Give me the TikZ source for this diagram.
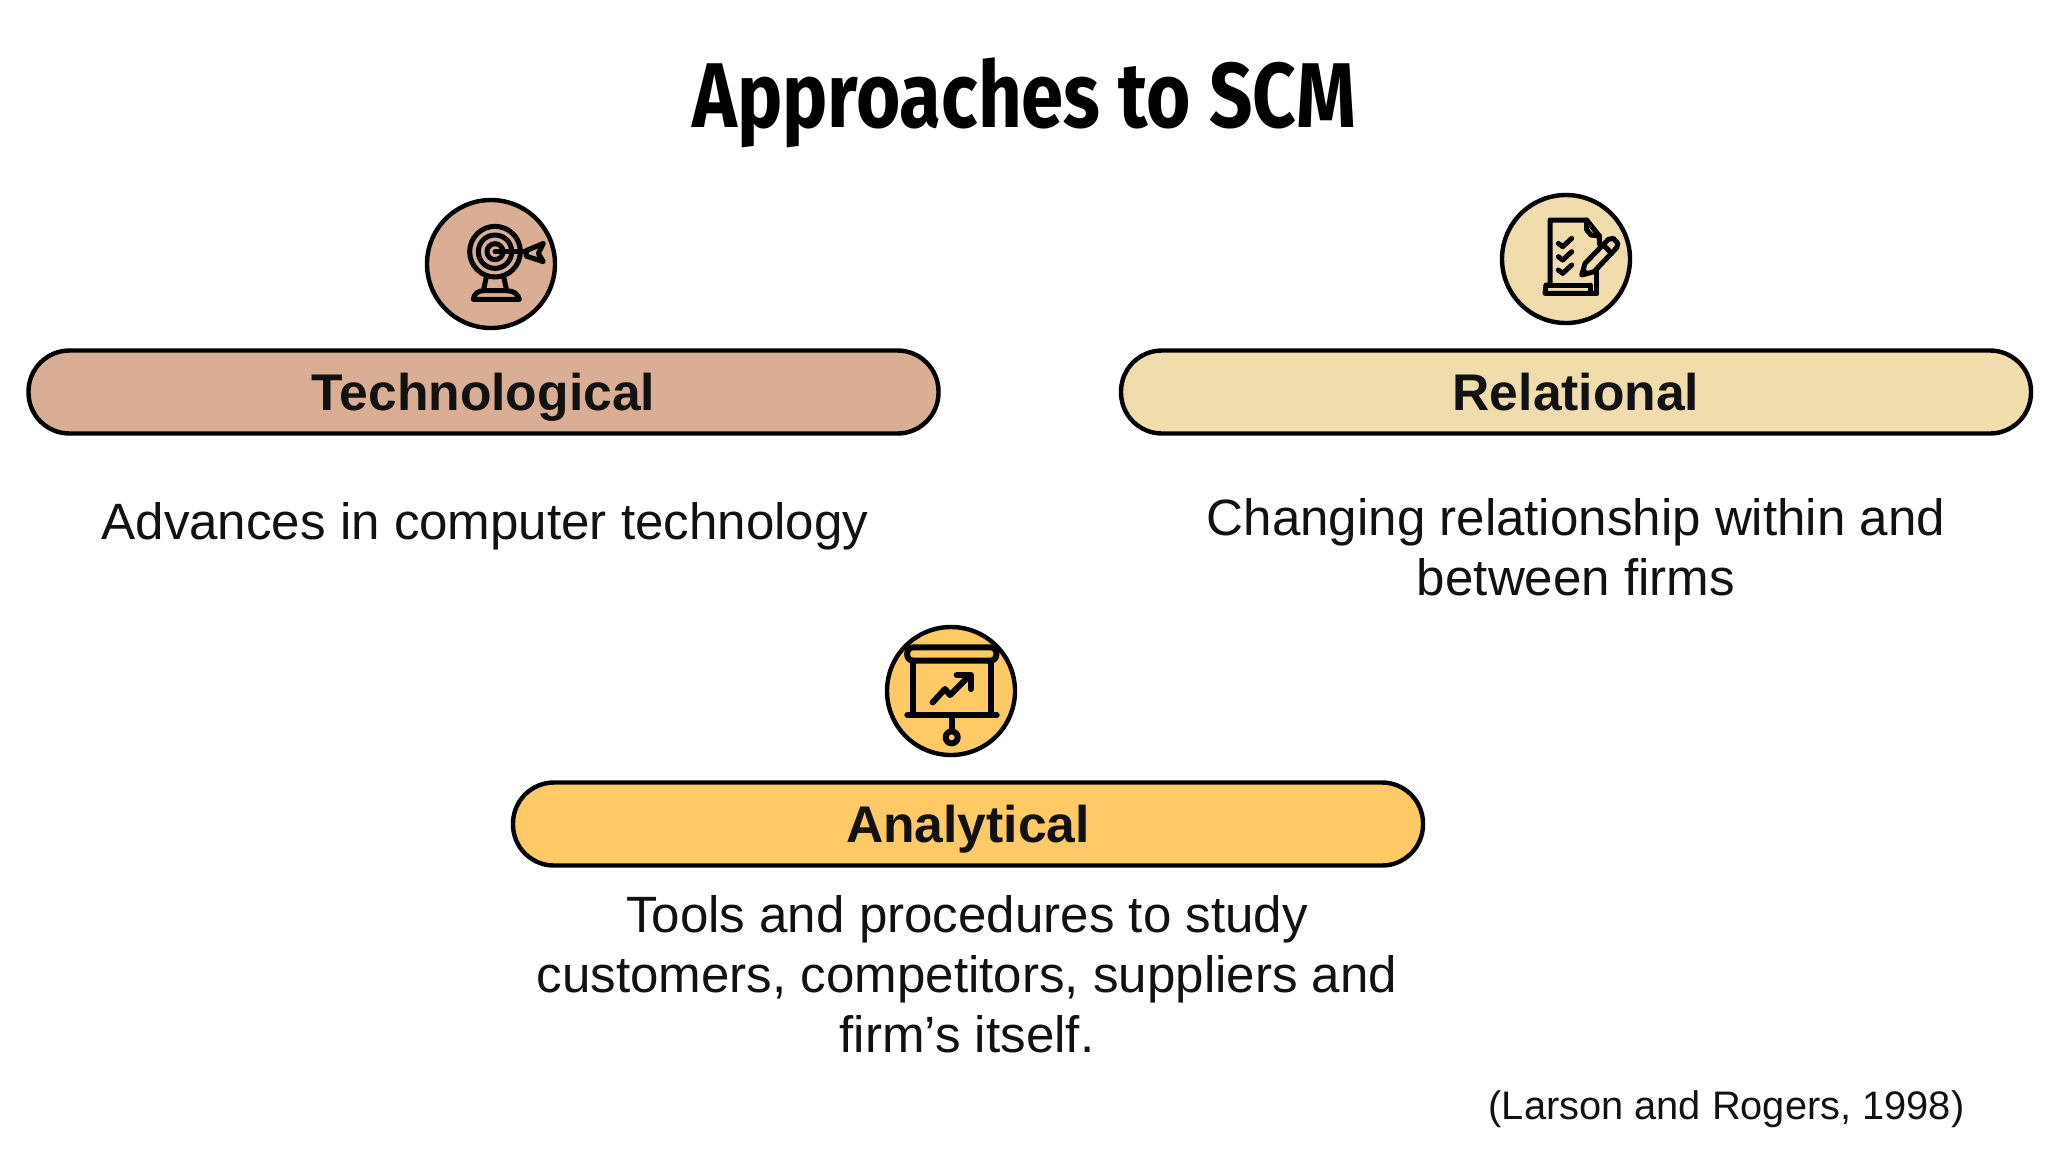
\documentclass[tikz,border=0pt]{standalone}
\usepackage{fontspec}
\setmainfont{Liberation Sans}
\newfontfamily\titlefont[FakeStretch=.827]{Fira Sans}
\definecolor{techfill}{HTML}{D9AE94}
\definecolor{relfill}{HTML}{F0DDAB}
\definecolor{anafill}{HTML}{FFC966}
\definecolor{inkcol}{HTML}{111111}
\tikzset{
  pill/.style={draw=black, line width=2.2pt, rounded corners=20.5pt, minimum width=455pt, minimum height=41.5pt, inner sep=0pt, text height=18pt, text depth=0pt, font=\fontsize{25.8}{30}\selectfont\bfseries, text=inkcol},
  badge/.style={draw=black, line width=2.2pt, circle, minimum size=64pt, inner sep=0pt},
  bodytext/.style={align=center, inner sep=0pt, font=\fontsize{25.55}{30}\selectfont, text=inkcol},
  icon/.style={line width=2.5pt, line cap=round, line join=round}
}
\begin{document}
\begin{tikzpicture}[x=.5pt, y=-.5pt]
\useasboundingbox (0, 0) rectangle (2048, 1152);
\node[inner sep=0pt, anchor=base, font=\titlefont\fontsize{46}{50}\selectfont\bfseries] (title) at (1024, 127) {Approaches to SCM};

\node[pill, fill=techfill] (tech) at (483.5, 392) {Technological};
\node[pill, fill=relfill] (rel) at (1576, 392) {Relational};
\node[pill, fill=anafill] (ana) at (968, 824) {Analytical};

\node[badge, fill=techfill] (techicon) at (491, 264) {};
\node[badge, fill=relfill] (relicon) at (1566, 259) {};
\node[badge, fill=anafill] (anaicon) at (951, 691) {};

\node[bodytext] (techtext) at (485, 526) {Advances in computer technology};
\node[bodytext] (reltext) at (1576, 547) {Changing relationship within and\\between firms};
\node[bodytext] (anatext) at (967, 974) {Tools and procedures to study\\customers, competitors, suppliers and\\firm’s itself.};
\node[bodytext, font=\fontsize{19.9}{24}\selectfont] (cite) at (1726.5, 1109) {(Larson and Rogers, 1998)};

\begin{scope}[shift={(400, 180)}, x=.1667pt, y=-.1667pt, icon]
\draw (285, 215) circle (76);
\draw (285, 215) circle (50);
\draw (285, 215) circle (24);
\draw (285, 215) -- (380, 215);
\draw (378, 212) -- (430, 190) -- (415, 220) -- (430, 245) -- (378, 228) -- cycle;
\draw (258, 295) -- (250, 332);
\draw (312, 295) -- (320, 332);
\draw (220, 358) .. controls (222, 340) and (235, 332) .. (250, 332) -- (320, 332) .. controls (340, 332) and (355, 342) .. (358, 358) -- cycle;
\end{scope}

\begin{scope}[shift={(1480, 180)}, x=.1667pt, y=-.1667pt, icon]
\draw (210, 312) -- (210, 120) -- (320, 120) -- (358, 168) -- (358, 192);
\draw (320, 120) -- (320, 150) -- (333, 165) -- (358, 168);
\draw (350, 268) -- (350, 340);
\draw (210, 315) -- (198, 315) -- (195, 340) -- (350, 340);
\draw (330, 315) -- (330, 340);
\draw (198, 315) -- (330, 315);
\draw (235, 190) -- (248, 200) -- (275, 175);
\draw (235, 230) -- (248, 240) -- (275, 215);
\draw (235, 270) -- (248, 280) -- (275, 255);
\draw (305, 285) -- (315, 250) -- (385, 178) -- (400, 175) -- (413, 190) -- (410, 203) -- (342, 275) -- cycle;
\draw (370, 195) -- (395, 220);
\fill (305, 285) -- (310, 262) -- (328, 278) -- cycle;
\end{scope}

\begin{scope}[shift={(870, 615)}, x=.1667pt, y=-.1667pt, icon, line width=3pt]
\draw (130, 97) -- (362, 97) .. controls (385, 97) and (385, 137) .. (362, 137) -- (130, 137) .. controls (105, 137) and (105, 97) .. (130, 97) -- cycle;
\draw (130, 137) -- (130, 300);
\draw (362, 137) -- (362, 300);
\draw (112, 300) -- (380, 300);
\draw (245, 300) -- (245, 345);
\draw (245, 367) circle (18);
\draw (188, 262) -- (225, 222) -- (240, 240) -- (292, 188);
\draw (260, 180) -- (302, 180) -- (302, 222);
\end{scope}
\end{tikzpicture}
\end{document}
